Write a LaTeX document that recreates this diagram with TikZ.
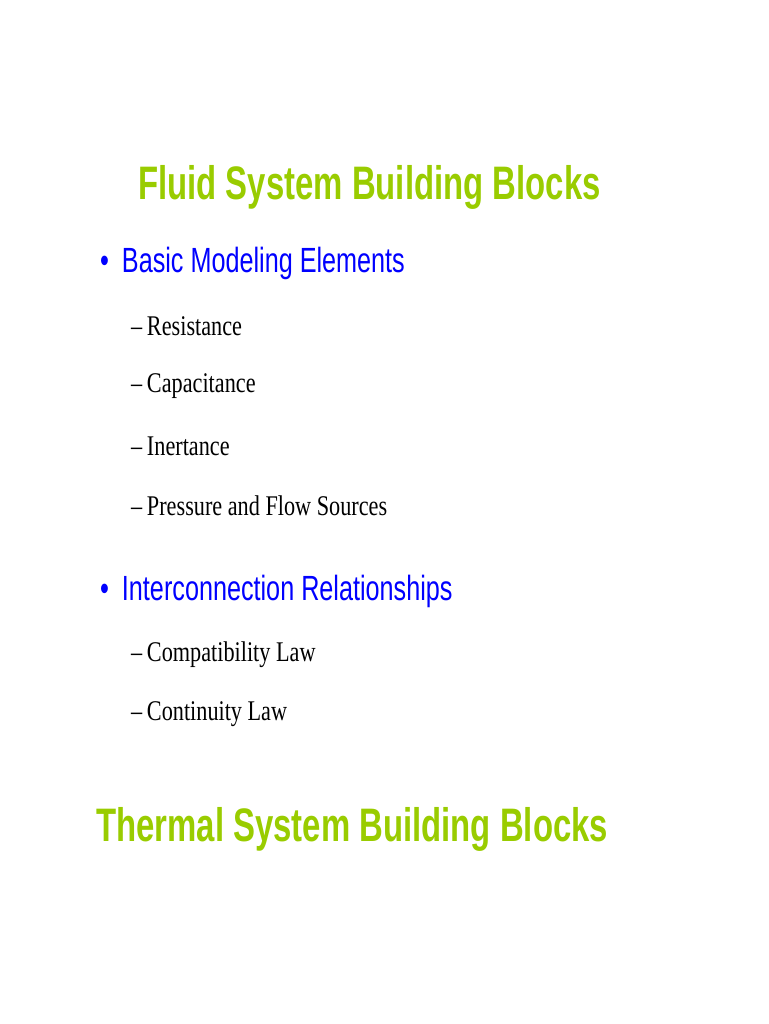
\documentclass[tikz,border=0pt]{standalone}
\usepackage{fontspec}
\setmainfont{Liberation Serif}
\newfontfamily\hd{Liberation Sans}
\definecolor{ttl}{HTML}{99CC00}
\definecolor{bl}{HTML}{0000FF}
\begin{document}
\begin{tikzpicture}[x=1pt,y=1pt,
  title/.style={anchor=west,inner sep=0,text=ttl,font=\hd\bfseries\fontsize{47}{50}\selectfont},
  head/.style={anchor=west,inner sep=0,text=bl,font=\hd\fontsize{35}{38}\selectfont},
  sub/.style={anchor=west,inner sep=0,font=\fontsize{28.5}{31}\selectfont}]
\useasboundingbox (0,0) rectangle (768,-1024);
\node[title] (t1) at (138,-187) {\scalebox{0.70}[1]{Fluid System Building Blocks}};
\node[head] (h1) at (100,-263) {\scalebox{0.72}[1]{•\hspace{18pt}Basic Modeling Elements}};
\node[sub] (s1) at (131,-326) {\scalebox{0.78}[1]{–\hspace{6pt}Resistance}};
\node[sub] (s2) at (131,-386) {\scalebox{0.78}[1]{–\hspace{6pt}Capacitance}};
\node[sub] (s3) at (131,-446) {\scalebox{0.78}[1]{–\hspace{6pt}Inertance}};
\node[sub] (s4) at (131,-506) {\scalebox{0.78}[1]{–\hspace{6pt}Pressure and Flow Sources}};
\node[head] (h2) at (100,-591) {\scalebox{0.72}[1]{•\hspace{18pt}Interconnection Relationships}};
\node[sub] (s5) at (131,-655) {\scalebox{0.78}[1]{–\hspace{6pt}Compatibility Law}};
\node[sub] (s6) at (131,-714) {\scalebox{0.78}[1]{–\hspace{6pt}Continuity Law}};
\node[title] (t2) at (96,-829) {\scalebox{0.70}[1]{Thermal System Building Blocks}};
\end{tikzpicture}
\end{document}
